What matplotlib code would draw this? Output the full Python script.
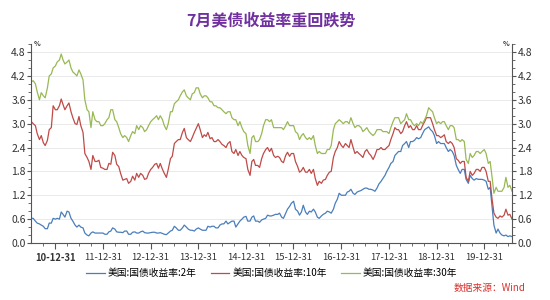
import pandas as pd
import matplotlib
matplotlib.use('Agg')
import matplotlib.pyplot as plt
import matplotlib.dates as mdates

plt.rcParams['font.family'] = ['Noto Sans CJK SC', 'DejaVu Sans']

# semi-monthly readings (1st and 15th), Jul 2010 - Jul 2020
y2 = [
    0.62, 0.62, 0.55, 0.50, 0.48, 0.45, 0.42, 0.36, 0.36, 0.50, 0.50, 0.62,  # 2010 H2
    0.60, 0.62, 0.60, 0.78, 0.72, 0.65, 0.80, 0.78, 0.62, 0.55, 0.45, 0.40,
    0.45, 0.40, 0.38, 0.25, 0.20, 0.18, 0.25, 0.28, 0.25, 0.25, 0.25, 0.25,  # 2011
    0.25, 0.22, 0.22, 0.28, 0.30, 0.38, 0.35, 0.28, 0.27, 0.27, 0.26, 0.30,
    0.30, 0.22, 0.22, 0.27, 0.28, 0.25, 0.25, 0.28, 0.30, 0.26, 0.25, 0.25,  # 2012
    0.26, 0.27, 0.27, 0.25, 0.25, 0.26, 0.24, 0.22, 0.21, 0.25, 0.30, 0.32,
    0.42, 0.38, 0.32, 0.32, 0.38, 0.45, 0.40, 0.35, 0.32, 0.32, 0.30, 0.35,  # 2013
    0.38, 0.35, 0.32, 0.32, 0.32, 0.42, 0.40, 0.42, 0.42, 0.38, 0.38, 0.45,
    0.48, 0.48, 0.55, 0.48, 0.52, 0.55, 0.55, 0.40, 0.48, 0.55, 0.60, 0.65,  # 2014
    0.67, 0.55, 0.55, 0.65, 0.68, 0.55, 0.55, 0.52, 0.58, 0.60, 0.62, 0.70,
    0.68, 0.68, 0.70, 0.72, 0.72, 0.75, 0.65, 0.62, 0.75, 0.85, 0.92, 1.00,  # 2015
    1.05, 0.85, 0.80, 0.70, 0.78, 0.95, 0.78, 0.72, 0.80, 0.78, 0.85, 0.78,
    0.65, 0.62, 0.68, 0.72, 0.75, 0.80, 0.78, 0.75, 0.85, 1.00, 1.10, 1.25,  # 2016
    1.20, 1.20, 1.20, 1.28, 1.30, 1.35, 1.25, 1.22, 1.28, 1.30, 1.32, 1.35,
    1.38, 1.38, 1.35, 1.35, 1.33, 1.30, 1.38, 1.48, 1.55, 1.62, 1.70, 1.80,  # 2017
    1.90, 2.00, 2.05, 2.20, 2.25, 2.30, 2.30, 2.45, 2.50, 2.55, 2.40, 2.55,
    2.55, 2.58, 2.65, 2.62, 2.65, 2.75, 2.85, 2.88, 2.92, 2.85, 2.80, 2.70,  # 2018
    2.50, 2.55, 2.50, 2.50, 2.50, 2.40, 2.30, 2.35, 2.30, 2.20, 1.95, 1.85,
    1.75, 1.85, 1.85, 1.60, 1.50, 1.70, 1.62, 1.58, 1.62, 1.60, 1.60, 1.60,  # 2019
    1.58, 1.55, 1.35, 1.40, 0.90, 0.45, 0.25, 0.35, 0.25, 0.20, 0.18, 0.20,
    0.16, 0.18, 0.16,  # 2020
]
y10 = [
    3.05, 3.00, 2.95, 2.75, 2.60, 2.70, 2.52, 2.45, 2.58, 2.85, 2.90, 3.45,
    3.35, 3.35, 3.45, 3.62, 3.48, 3.35, 3.45, 3.52, 3.30, 3.15, 3.00, 2.98,
    3.18, 2.95, 2.78, 2.25, 2.15, 2.05, 1.85, 2.20, 2.05, 2.05, 2.08, 1.90,
    1.88, 1.85, 1.85, 2.00, 1.98, 2.28, 2.20, 1.98, 1.92, 1.75, 1.58, 1.60,
    1.62, 1.50, 1.55, 1.68, 1.58, 1.75, 1.65, 1.75, 1.70, 1.60, 1.62, 1.75,
    1.85, 1.90, 1.98, 2.00, 1.88, 2.00, 1.85, 1.75, 1.65, 1.85, 2.12, 2.18,
    2.50, 2.55, 2.60, 2.60, 2.78, 2.88, 2.65, 2.60, 2.55, 2.65, 2.78, 2.88,
    3.00, 2.85, 2.65, 2.72, 2.68, 2.78, 2.62, 2.65, 2.55, 2.55, 2.60, 2.55,
    2.48, 2.45, 2.40, 2.50, 2.55, 2.30, 2.25, 2.35, 2.20, 2.30, 2.20, 2.15,
    2.12, 1.85, 1.70, 2.05, 2.10, 1.95, 1.95, 1.90, 2.12, 2.25, 2.35, 2.40,
    2.30, 2.38, 2.20, 2.15, 2.18, 2.15, 2.05, 2.02, 2.20, 2.28, 2.18, 2.25,
    2.25, 2.05, 1.92, 1.78, 1.82, 1.90, 1.78, 1.78, 1.85, 1.75, 1.85, 1.62,
    1.45, 1.55, 1.50, 1.58, 1.60, 1.70, 1.78, 1.80, 2.15, 2.30, 2.40, 2.55,
    2.45, 2.40, 2.50, 2.45, 2.40, 2.60, 2.40, 2.25, 2.30, 2.25, 2.20, 2.15,
    2.30, 2.35, 2.25, 2.20, 2.10, 2.20, 2.35, 2.35, 2.40, 2.35, 2.35, 2.40,
    2.45, 2.60, 2.75, 2.90, 2.85, 2.85, 2.75, 2.80, 2.95, 3.05, 2.90, 2.95,
    2.85, 2.85, 2.95, 2.85, 2.85, 2.95, 3.05, 3.15, 3.15, 3.15, 3.00, 2.85,
    2.70, 2.70, 2.65, 2.68, 2.72, 2.55, 2.50, 2.55, 2.50, 2.40, 2.12, 2.08,
    2.00, 2.05, 2.05, 1.65, 1.55, 1.80, 1.70, 1.75, 1.85, 1.85, 1.80, 1.90,
    1.90, 1.80, 1.55, 1.55, 1.10, 0.75, 0.65, 0.62, 0.68, 0.65, 0.70, 0.85,
    0.70, 0.72, 0.60,
]
y30 = [
    4.05, 4.08, 4.00, 3.80, 3.60, 3.78, 3.70, 3.65, 3.90, 4.20, 4.25, 4.40,
    4.45, 4.55, 4.60, 4.75, 4.60, 4.50, 4.55, 4.60, 4.40, 4.30, 4.25, 4.20,
    4.35, 4.25, 4.10, 3.60, 3.35, 3.30, 2.90, 3.30, 3.10, 3.05, 3.05, 2.95,
    2.95, 3.00, 3.10, 3.15, 3.35, 3.35, 3.10, 3.05, 2.90, 2.75, 2.65, 2.70,
    2.65, 2.55, 2.70, 2.80, 2.75, 2.95, 2.85, 2.95, 2.90, 2.80, 2.85, 2.95,
    3.05, 3.10, 3.15, 3.20, 3.10, 3.20, 3.10, 2.95, 2.85, 3.00, 3.30, 3.30,
    3.50, 3.55, 3.60, 3.70, 3.80, 3.85, 3.70, 3.65, 3.60, 3.75, 3.78, 3.90,
    3.90, 3.75, 3.65, 3.70, 3.70, 3.65, 3.55, 3.55, 3.45, 3.45, 3.40, 3.40,
    3.35, 3.30, 3.25, 3.30, 3.30, 3.15, 3.10, 3.10, 2.95, 3.05, 2.90, 2.80,
    2.75, 2.45, 2.25, 2.65, 2.70, 2.55, 2.55, 2.60, 2.75, 2.95, 3.10, 3.10,
    3.05, 3.10, 2.90, 2.90, 2.90, 2.90, 2.90, 2.85, 2.95, 3.05, 2.95, 2.95,
    2.95, 2.80, 2.75, 2.60, 2.70, 2.75, 2.65, 2.60, 2.65, 2.60, 2.70, 2.45,
    2.25, 2.30, 2.25, 2.25, 2.25, 2.35, 2.35, 2.45, 2.85, 3.00, 3.05, 3.10,
    3.05, 3.00, 3.05, 3.05, 3.00, 3.15, 3.00, 2.90, 2.95, 2.95, 2.90, 2.80,
    2.85, 2.90, 2.80, 2.75, 2.70, 2.75, 2.85, 2.85, 2.85, 2.80, 2.80, 2.80,
    2.75, 2.90, 3.05, 3.15, 3.15, 3.15, 3.00, 3.05, 3.10, 3.25, 3.10, 3.10,
    3.00, 2.95, 3.00, 2.95, 3.05, 3.00, 3.10, 3.20, 3.40, 3.35, 3.30, 3.15,
    3.00, 3.05, 3.00, 3.05, 3.05, 2.95, 2.85, 2.95, 2.95, 2.90, 2.60, 2.60,
    2.55, 2.60, 2.55, 2.10, 2.00, 2.25, 2.15, 2.20, 2.30, 2.30, 2.25, 2.30,
    2.35, 2.25, 2.00, 2.05, 1.65, 1.25, 1.40, 1.30, 1.30, 1.30, 1.40, 1.65,
    1.40, 1.45, 1.30,
]
dates = pd.date_range('2010-07-01', periods=len(y10), freq='SMS')

labels = ['美国:国债收益率:2年', '美国:国债收益率:10年', '美国:国债收益率:30年']
colors = ['#4a7ebb', '#be4b48', '#98b954']
yticks = [0.0, 0.6, 1.2, 1.8, 2.4, 3.0, 3.6, 4.2, 4.8]

fig = plt.figure(figsize=(5.5, 3.0), dpi=100)
ax = fig.add_axes([0.057, 0.19, 0.874, 0.663])

for vals, lab, col in zip([y2, y10, y30], labels, colors):
    ax.plot(dates, vals, color=col, lw=0.9, label=lab)

ax.set_xlim(pd.Timestamp('2010-07-01'), pd.Timestamp('2020-08-01'))
ax.set_ylim(0, 5.0)
ax.set_yticks(yticks)
ax.set_yticklabels([f'{v:.1f}' for v in yticks])
ax.yaxis.set_minor_locator(plt.MultipleLocator(0.2))
ax.grid(axis='y', color='#e6e6e6', lw=0.6)
ax.set_axisbelow(True)

ax.xaxis.set_major_locator(mdates.MonthLocator(bymonth=12, bymonthday=31))
ax.xaxis.set_major_formatter(mdates.DateFormatter('%y-%m-%d'))
ax.xaxis.set_minor_locator(mdates.MonthLocator(bymonth=[3, 6, 9], bymonthday=30))

ax.spines['top'].set_visible(False)
for s in ['left', 'right', 'bottom']:
    ax.spines[s].set_color('#555555')
    ax.spines[s].set_linewidth(0.8)

ax.tick_params(axis='y', which='both', direction='out', colors='#555555',
               labelsize=7.5, labelcolor='#333333', right=True, labelright=True,
               pad=1)
ax.tick_params(axis='y', which='major', length=3)
ax.tick_params(axis='y', which='minor', length=2)
ax.tick_params(axis='x', which='both', direction='out', colors='#555555',
               labelsize=6.8, labelcolor='#333333', pad=3)
ax.tick_params(axis='x', which='major', length=4)
ax.tick_params(axis='x', which='minor', length=2)
fig.canvas.draw()
ax.get_xticklabels()[0].set_fontweight('bold')

ax.text(0.005, 0.985, '%', transform=ax.transAxes, fontsize=5, ha='left',
        va='bottom', color='#333333', fontweight='bold')
ax.text(0.995, 0.985, '%', transform=ax.transAxes, fontsize=5, ha='right',
        va='bottom', color='#333333', fontweight='bold')

fig.text(0.493, 0.933, '7月美债收益率重回跌势', ha='center', va='center',
         fontsize=11.5, fontweight='bold', color='#7030a0')

fig.legend(loc='center', bbox_to_anchor=(0.494, 0.09), ncol=3, frameon=False,
           fontsize=7, handlelength=1.9, columnspacing=1.5, handletextpad=0.3)

fig.text(0.955, 0.04, '数据来源：Wind', ha='right', va='center', fontsize=7,
         color='#d9302c', style='italic')

fig.savefig('out.png', dpi=100)
